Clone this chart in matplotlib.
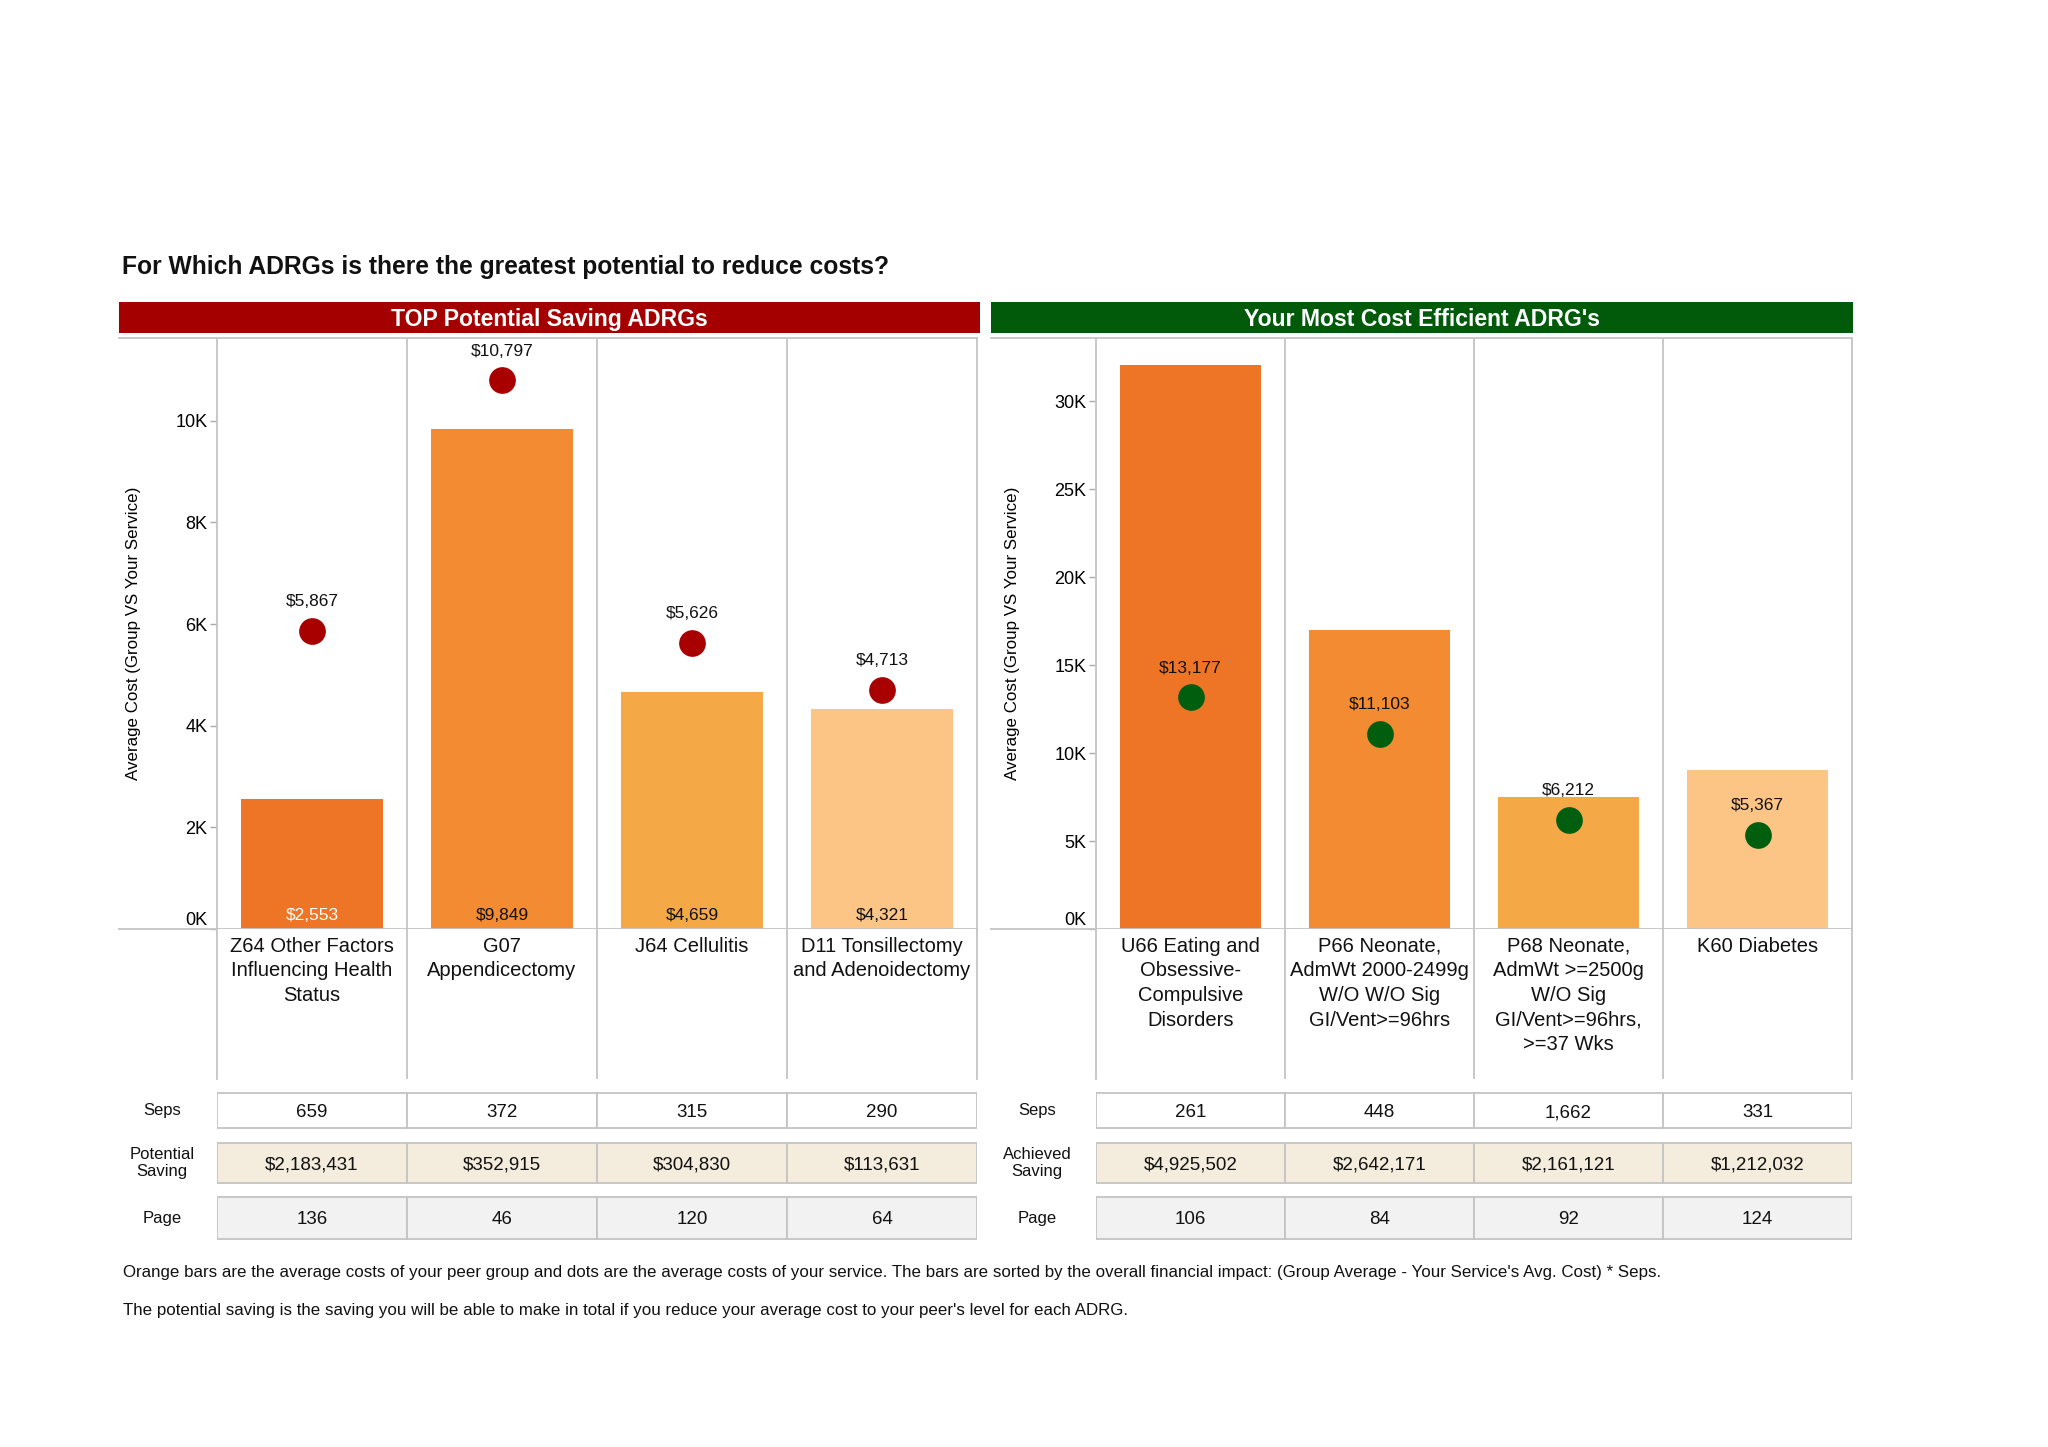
import matplotlib
matplotlib.use("Agg")
import matplotlib.pyplot as plt
import numpy as np
from matplotlib.patches import Rectangle
from matplotlib.ticker import FuncFormatter, FixedLocator

plt.rcParams['font.family'] = ['Liberation Sans', 'DejaVu Sans']

# ---------------- data ----------------
title = "For Which ADRGs is there the greatest potential to reduce costs?"
left_header = "TOP Potential Saving ADRGs"
right_header = "Your Most Cost Efficient ADRG's"

left_cats = ["Z64 Other Factors\nInfluencing Health\nStatus", "G07\nAppendicectomy",
             "J64 Cellulitis", "D11 Tonsillectomy\nand Adenoidectomy"]
left_group = [2553, 9849, 4659, 4321]
left_service = [5867, 10797, 5626, 4713]
left_seps = ["659", "372", "315", "290"]
left_saving = ["$2,183,431", "$352,915", "$304,830", "$113,631"]
left_page = ["136", "46", "120", "64"]

right_cats = ["U66 Eating and\nObsessive-\nCompulsive\nDisorders",
              "P66 Neonate,\nAdmWt 2000-2499g\nW/O W/O Sig\nGI/Vent>=96hrs",
              "P68 Neonate,\nAdmWt >=2500g\nW/O Sig\nGI/Vent>=96hrs,\n>=37 Wks",
              "K60 Diabetes"]
right_group = [32049, 17001, 7512, 9029]
right_service = [13177, 11103, 6212, 5367]
right_seps = ["261", "448", "1,662", "331"]
right_saving = ["$4,925,502", "$2,642,171", "$2,161,121", "$1,212,032"]
right_page = ["106", "84", "92", "124"]

left_row_labels = ["Seps", "Potential\nSaving", "Page"]
right_row_labels = ["Seps", "Achieved\nSaving", "Page"]

footnote1 = ("Orange bars are the average costs of your peer group and dots are the average costs of your service. "
             "The bars are sorted by the overall financial impact: (Group Average - Your Service's Avg. Cost) * Seps.")
footnote2 = ("The potential saving is the saving you will be able to make in total if you reduce your average cost "
             "to your peer's level for each ADRG.")

# ---------------- styles ----------------
bar_colors = ["#EE7526", "#F28B31", "#F5A846", "#FDC585"]
red = "#A80000"
green = "#005E0E"
grid_gray = "#C4C4C4"
W, H = 2048, 1447

fig = plt.figure(figsize=(W / 100, H / 100), dpi=100)


def fx(px):
    return px / W


def fy(py):
    return 1 - py / H


def make_panel(x0, x1, hx0, hx1, header, hcolor, cats, group, service, dotcolor,
               ymax, step, seps, saving, page, row_labels, bar_labels, rowlab_x):
    # header bar
    hax = fig.add_axes([fx(hx0), fy(333), fx(hx1 - hx0), (333 - 302) / H])
    hax.set_facecolor(hcolor)
    hax.set_xticks([]); hax.set_yticks([])
    for s in hax.spines.values():
        s.set_visible(False)
    hax.text(0.5, 0.45, header, color="white", fontsize=16.6, fontweight="bold",
             ha="center", va="center", transform=hax.transAxes)

    # main chart
    ax = fig.add_axes([fx(x0), fy(929), fx(x1 - x0), (929 - 338) / H])
    x = list(range(len(cats)))
    ax.bar(x, group, width=0.75, color=bar_colors, zorder=2)
    ax.scatter(x, service, s=370, color=dotcolor, zorder=3, linewidths=0)
    for xi, v in zip(x, service):
        ax.annotate(f"${v:,}", (xi, v), xytext=(0, 21), textcoords="offset points",
                    ha="center", va="center", fontsize=12.5, color="#111111", zorder=4)
    if bar_labels:
        for i, (xi, v) in enumerate(zip(x, group)):
            ax.annotate(f"${v:,}", (xi, 0), xytext=(0, 10), textcoords="offset points",
                        ha="center", va="center", fontsize=12.5,
                        color="white" if i == 0 else "#111111", zorder=4)
    ax.set_xlim(-0.5, len(cats) - 0.5)
    ax.set_ylim(0, ymax)
    ax.yaxis.set_major_locator(FixedLocator(np.arange(0, ymax, step)))
    ax.yaxis.set_major_formatter(FuncFormatter(lambda v, p: f"{v / 1000:.0f}K"))
    ax.tick_params(axis="y", length=5, width=1, color="#AAAAAA", labelsize=13, pad=2)
    ax.set_xticks([])
    for s in ["left", "right", "top", "bottom"]:
        ax.spines[s].set_color(grid_gray)
        ax.spines[s].set_linewidth(1.3)
    for b in [0.5, 1.5, 2.5]:
        ax.axvline(b, color=grid_gray, lw=1.3, zorder=1)
    ax.set_ylabel("Average Cost (Group VS Your Service)", fontsize=12.2)
    ax.yaxis.set_label_coords(-0.1, 0.5)
    # extend top and bottom rules to the left edge of header
    ext = (hx0 - x0) / (x1 - x0)
    ax.plot([ext, 0], [1, 1], transform=ax.transAxes, color=grid_gray, lw=1.3, clip_on=False)
    ax.plot([ext, 0], [0, 0], transform=ax.transAxes, color=grid_gray, lw=1.3, clip_on=False)

    # category label area
    lax = fig.add_axes([fx(x0), fy(1079), fx(x1 - x0), (1079 - 929) / H])
    lax.set_xlim(-0.5, len(cats) - 0.5)
    lax.set_ylim(0, 1)
    lax.set_xticks([]); lax.set_yticks([])
    for s in ["top", "bottom"]:
        lax.spines[s].set_visible(False)
    for s in ["left", "right"]:
        lax.spines[s].set_color(grid_gray)
        lax.spines[s].set_linewidth(1.3)
    for b in [0.5, 1.5, 2.5]:
        lax.axvline(b, color=grid_gray, lw=1.3)
    for xi, c in zip(x, cats):
        lax.text(xi, 0.95, c, ha="center", va="top", fontsize=14.5, linespacing=1.38,
                 color="#111111")

    # table rows
    tax = fig.add_axes([fx(x0), fy(1242), fx(x1 - x0), (1242 - 1088) / H])
    tax.set_xlim(-0.5, len(cats) - 0.5)
    tax.set_ylim(1242, 1088)
    tax.axis("off")
    rows = [(seps, 1093, 1128, "white"),
            (saving, 1143, 1183, "#F4ECDC"),
            (page, 1197, 1239, "#F2F2F2")]
    for (vals, top, bot, fc), rl in zip(rows, row_labels):
        for xi, v in zip(x, vals):
            tax.add_patch(Rectangle((xi - 0.5, top), 1, bot - top, facecolor=fc,
                                    edgecolor=grid_gray, lw=1.3))
            tax.text(xi, (top + bot) / 2, v, ha="center", va="center_baseline", fontsize=13.5,
                     color="#111111")
        tax.text(rowlab_x, (top + bot) / 2, rl, ha="center", va="center",
                 fontsize=12, linespacing=1.2, color="#111111")
    return ax


# left panel
axL = make_panel(217, 977, 119, 980, left_header, "#A50000", left_cats, left_group, left_service,
                 red, 11630, 2000, left_seps, left_saving, left_page, left_row_labels, True,
                 -0.5 + (162 - 217) / 190)
# right panel
axR = make_panel(1096, 1852, 991, 1853, right_header, "#005A0A", right_cats, right_group,
                 right_service, green, 33600, 5000, right_seps, right_saving, right_page,
                 right_row_labels, False, -0.5 + (1037 - 1096) / 189)

fig.text(fx(122), fy(267), title, fontsize=17.7, fontweight="bold", ha="left", va="center",
         color="#111111")
fig.text(fx(123), fy(1272), footnote1, fontsize=12.15, ha="left", va="center", color="#111111")
fig.text(fx(123), fy(1311), footnote2, fontsize=12.15, ha="left", va="center", color="#111111")

# raise the zero tick label above the baseline, as in the reference
fig.canvas.draw()
for a in (axL, axR):
    for tick, loc in zip(a.yaxis.get_major_ticks(), a.yaxis.get_majorticklocs()):
        if loc == 0:
            tick.label1.set_verticalalignment("bottom")

fig.savefig("out.png", dpi=100, facecolor="white")
